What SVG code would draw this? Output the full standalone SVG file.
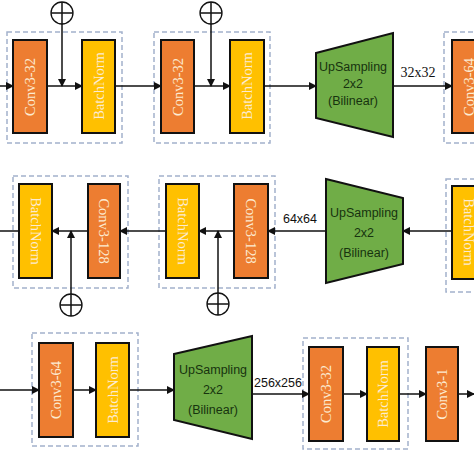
<svg xmlns="http://www.w3.org/2000/svg" width="474" height="474" viewBox="0 0 474 474">
<style>
.conv{fill:#ED7D31;stroke:#111;stroke-width:2}
.bn{fill:#FFC000;stroke:#111;stroke-width:2}
.up{fill:#70AD47;stroke:#111;stroke-width:2}
.dash{fill:none;stroke:#A3B1CC;stroke-width:1.5;stroke-dasharray:5 3}
.lt{font-family:"Liberation Serif",serif;font-size:14.5px;fill:#FCEBD2;text-anchor:middle;dominant-baseline:central}
.ut{font-family:"Liberation Sans",Arial,sans-serif;font-size:12.5px;fill:#17330F;text-anchor:middle}
.lab{font-family:"Liberation Sans",Arial,sans-serif;font-size:12.5px;fill:#111;text-anchor:middle}
.labs{font-family:"Liberation Serif",serif;font-size:14px;fill:#111;text-anchor:middle}
.ln{stroke:#111;stroke-width:1.5;fill:none}
.plus{fill:#fff;stroke:#111;stroke-width:1.3}
</style>
<defs>
<marker id="ah" markerWidth="8" markerHeight="8" refX="7" refY="4" orient="auto" markerUnits="userSpaceOnUse">
<path d="M0,0 L8,4 L0,8 Z" fill="#111"/>
</marker>
</defs>
<rect width="474" height="474" fill="#fff"/>

<g id="groups">
<rect class="dash" x="7" y="32" width="115" height="111"/>
<rect class="dash" x="154" y="32" width="116" height="111"/>
<rect class="dash" x="444" y="32" width="40" height="111"/>
<rect class="dash" x="13" y="176" width="115" height="112"/>
<rect class="dash" x="159" y="176" width="116" height="112"/>
<rect class="dash" x="446" y="179" width="40" height="113"/>
<rect class="dash" x="32" y="333" width="106" height="113"/>
<rect class="dash" x="303" y="338" width="105" height="111"/>
</g>

<g id="connectors">
<line class="ln" x1="0" y1="86" x2="13" y2="86" marker-end="url(#ah)"/>
<line class="ln" x1="47" y1="86" x2="82" y2="86" marker-end="url(#ah)"/>
<line class="ln" x1="62" y1="24" x2="62" y2="86" marker-end="url(#ah)"/>
<line class="ln" x1="115" y1="86" x2="161" y2="86" marker-end="url(#ah)"/>
<line class="ln" x1="194" y1="86" x2="230" y2="86" marker-end="url(#ah)"/>
<line class="ln" x1="211" y1="24" x2="211" y2="86" marker-end="url(#ah)"/>
<line class="ln" x1="264" y1="86" x2="316" y2="86" marker-end="url(#ah)"/>
<line class="ln" x1="393" y1="86" x2="452" y2="86" marker-end="url(#ah)"/>

<line class="ln" x1="452" y1="231" x2="403" y2="231" marker-end="url(#ah)"/>
<line class="ln" x1="326" y1="231" x2="268" y2="231" marker-end="url(#ah)"/>
<line class="ln" x1="234" y1="231" x2="199" y2="231" marker-end="url(#ah)"/>
<line class="ln" x1="218" y1="293" x2="218" y2="231" marker-end="url(#ah)"/>
<line class="ln" x1="166" y1="231" x2="120" y2="231" marker-end="url(#ah)"/>
<line class="ln" x1="88" y1="231" x2="52" y2="231" marker-end="url(#ah)"/>
<line class="ln" x1="71" y1="294" x2="71" y2="231" marker-end="url(#ah)"/>
<line class="ln" x1="19" y1="231" x2="0" y2="231"/>

<line class="ln" x1="0" y1="390" x2="39" y2="390" marker-end="url(#ah)"/>
<line class="ln" x1="73" y1="390" x2="96" y2="390" marker-end="url(#ah)"/>
<line class="ln" x1="129" y1="390" x2="174" y2="390" marker-end="url(#ah)"/>
<line class="ln" x1="252" y1="394" x2="309" y2="394" marker-end="url(#ah)"/>
<line class="ln" x1="343" y1="394" x2="367" y2="394" marker-end="url(#ah)"/>
<line class="ln" x1="399" y1="394" x2="426" y2="394" marker-end="url(#ah)"/>
<line class="ln" x1="458" y1="394" x2="474" y2="394" marker-end="url(#ah)"/>

<text class="labs" x="418" y="77">32x32</text>
<text class="lab" x="300" y="223">64x64</text>
<text class="lab" x="278" y="387">256x256</text>
</g>

<g id="plus1"><circle class="plus" cx="62" cy="13" r="11"/><path class="ln" d="M51,13 H73 M62,2 V24"/></g>
<g id="plus2"><circle class="plus" cx="211" cy="13" r="11"/><path class="ln" d="M200,13 H222 M211,2 V24"/></g>
<g id="conv1"><rect class="conv" x="13" y="40" width="34" height="93"/><text class="lt" transform="translate(30,87) rotate(-90)">Conv3-32</text></g>
<g id="bn1"><rect class="bn" x="82" y="40" width="33" height="93"/><text class="lt" transform="translate(98.5,86) rotate(-90)">BatchNorm</text></g>
<g id="conv2"><rect class="conv" x="161" y="40" width="33" height="93"/><text class="lt" transform="translate(177.5,87) rotate(-90)">Conv3-32</text></g>
<g id="bn2"><rect class="bn" x="230" y="40" width="34" height="93"/><text class="lt" transform="translate(247,86) rotate(-90)">BatchNorm</text></g>
<g id="up1"><polygon class="up" points="316,53 393,33 393,137 316,118"/>
<text class="ut" x="353" y="71">UpSampling</text><text class="ut" x="353" y="88">2x2</text><text class="ut" x="353" y="105">(Bilinear)</text></g>
<g id="conv3"><rect class="conv" x="452" y="40" width="34" height="93"/><text class="lt" transform="translate(469,87) rotate(-90)">Conv3-64</text></g>

<g id="bn3"><rect class="bn" x="452" y="186" width="34" height="93"/><text class="lt" transform="translate(469,232) rotate(90)">BatchNorm</text></g>
<g id="up2"><polygon class="up" points="326,179 403,198 403,264 326,283"/>
<text class="ut" x="364" y="217">UpSampling</text><text class="ut" x="364" y="237">2x2</text><text class="ut" x="364" y="257">(Bilinear)</text></g>
<g id="conv4"><rect class="conv" x="234" y="184" width="34" height="94"/><text class="lt" transform="translate(251,231) rotate(90)">Conv3-128</text></g>
<g id="bn4"><rect class="bn" x="166" y="184" width="33" height="94"/><text class="lt" transform="translate(182.5,231) rotate(90)">BatchNorm</text></g>
<g id="plus3"><circle class="plus" cx="218" cy="304" r="11"/><path class="ln" d="M207,304 H229 M218,293 V315"/></g>
<g id="conv5"><rect class="conv" x="88" y="184" width="32" height="94"/><text class="lt" transform="translate(104,231) rotate(90)">Conv3-128</text></g>
<g id="bn5"><rect class="bn" x="19" y="184" width="33" height="94"/><text class="lt" transform="translate(35.5,231) rotate(90)">BatchNorm</text></g>
<g id="plus4"><circle class="plus" cx="71" cy="305" r="11"/><path class="ln" d="M60,305 H82 M71,294 V316"/></g>

<g id="conv6"><rect class="conv" x="39" y="343" width="34" height="94"/><text class="lt" transform="translate(56,390) rotate(-90)">Conv3-64</text></g>
<g id="bn6"><rect class="bn" x="96" y="343" width="33" height="94"/><text class="lt" transform="translate(112.5,390) rotate(-90)">BatchNorm</text></g>
<g id="up3"><polygon class="up" points="174,354 252,336 252,439 174,420"/>
<text class="ut" x="213" y="374">UpSampling</text><text class="ut" x="213" y="394">2x2</text><text class="ut" x="213" y="414">(Bilinear)</text></g>
<g id="conv7"><rect class="conv" x="309" y="347" width="34" height="94"/><text class="lt" transform="translate(326,394) rotate(-90)">Conv3-32</text></g>
<g id="bn7"><rect class="bn" x="367" y="347" width="32" height="94"/><text class="lt" transform="translate(383,394) rotate(-90)">BatchNorm</text></g>
<g id="conv8"><rect class="conv" x="426" y="347" width="32" height="94"/><text class="lt" transform="translate(442,394) rotate(-90)">Conv3-1</text></g>
</svg>
